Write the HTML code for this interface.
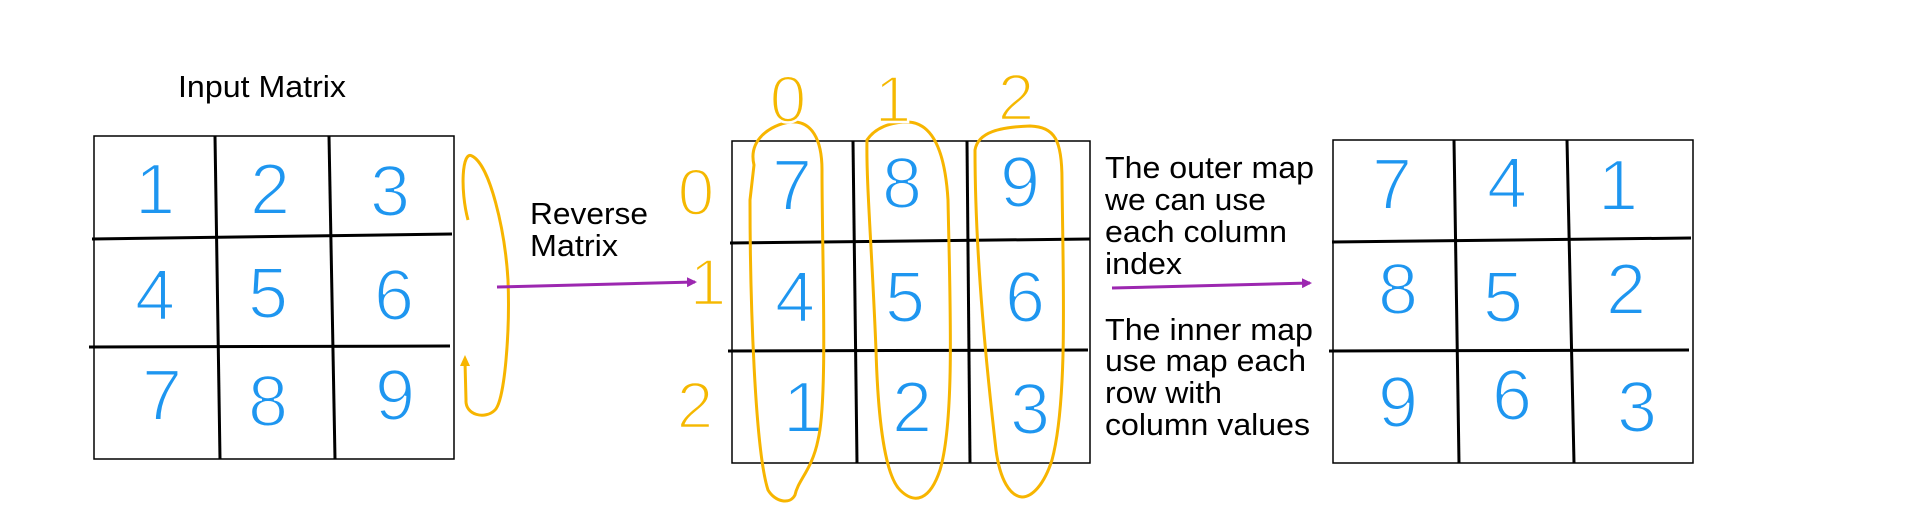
<!DOCTYPE html>
<html><head><meta charset="utf-8"><style>
html,body{margin:0;padding:0;background:#fff;}
svg{display:block;}
.d{font-family:"Liberation Sans",sans-serif;font-size:72px;fill:#1e96f0;stroke:#fff;stroke-width:2px;text-anchor:middle;}
.y{font-family:"Liberation Sans",sans-serif;font-size:66px;fill:#f5b800;stroke:#fff;stroke-width:2.4px;text-anchor:middle;}
.t{font-family:"Liberation Sans",sans-serif;font-size:31px;fill:#000;}
.g{stroke:#000;stroke-width:1.5;fill:none;}
.h{stroke:#000;stroke-width:3;fill:none;}
.o{stroke:#f7b500;stroke-width:3;fill:none;}
</style></head><body>
<svg width="1920" height="527" viewBox="0 0 1920 527" xmlns="http://www.w3.org/2000/svg">
<defs>
<marker id="pa" markerWidth="10" markerHeight="10" refX="8" refY="5" orient="auto" markerUnits="userSpaceOnUse"><path d="M0,0 L10,5 L0,10 Z" fill="#9c27b0"/></marker>
</defs>
<!-- Input Matrix -->
<text class="t" x="178" y="97" textLength="168" lengthAdjust="spacingAndGlyphs" font-size="30">Input Matrix</text>
<rect class="g" x="94" y="136" width="360" height="323"/>
<line class="h" x1="215" y1="136" x2="220" y2="459" stroke-width="2.5"/>
<line class="h" x1="329" y1="136" x2="335" y2="459" stroke-width="2.5"/>
<line class="h" x1="92" y1="239" x2="452" y2="234"/>
<line class="h" x1="89" y1="347" x2="450" y2="346"/>
<text class="d" x="155" y="214">1</text><text class="d" x="270" y="214">2</text><text class="d" x="390" y="216">3</text>
<text class="d" x="155" y="320">4</text><text class="d" x="268" y="318">5</text><text class="d" x="394" y="320">6</text>
<text class="d" x="162" y="420">7</text><text class="d" x="268" y="426">8</text><text class="d" x="395" y="420">9</text>
<!-- yellow bracket -->
<path class="o" d="M468,220 C460,190 462,150 472,156 C490,165 505,230 508,280 C510,330 505,400 495,410 C485,420 465,415 466,400 L465,362"/>
<path d="M460,366 L465,355 L470,366 Z" fill="#f7b500"/>
<!-- Reverse Matrix -->
<text class="t" x="530" y="224" textLength="118" lengthAdjust="spacingAndGlyphs">Reverse</text>
<text class="t" x="530" y="256" textLength="88" lengthAdjust="spacingAndGlyphs">Matrix</text>
<line x1="497" y1="287" x2="695" y2="282" stroke="#9c27b0" stroke-width="3" marker-end="url(#pa)"/>
<!-- Matrix 2 -->
<rect class="g" x="732" y="141" width="358" height="322"/>
<line class="h" x1="853" y1="141" x2="857" y2="463" stroke-width="2.5"/>
<line class="h" x1="967" y1="141" x2="970" y2="463" stroke-width="2.5"/>
<line class="h" x1="730" y1="243" x2="1090" y2="239"/>
<line class="h" x1="728" y1="351" x2="1088" y2="350"/>
<text class="d" x="792" y="210">7</text><text class="d" x="902" y="208">8</text><text class="d" x="1020" y="207">9</text>
<text class="d" x="795" y="322">4</text><text class="d" x="905" y="322">5</text><text class="d" x="1025" y="322">6</text>
<text class="d" x="803" y="432">1</text><text class="d" x="912" y="432">2</text><text class="d" x="1030" y="434">3</text>
<!-- column loops -->
<path class="o" d="M754,165 C748,140 770,125 790,122 C812,120 822,140 822,170 C822,260 828,400 818,440 C812,470 798,480 795,495 C790,505 775,502 768,490 C755,450 750,300 750,200 Z"/>
<path class="o" d="M867,140 C875,128 890,122 908,122 C932,123 945,150 948,200 C950,300 955,420 940,470 C930,500 915,505 900,490 C885,475 878,420 876,350 C872,250 866,180 867,140 Z"/>
<path class="o" d="M975,150 C978,132 1000,127 1030,126 C1055,127 1062,140 1062,180 C1063,280 1068,400 1052,460 C1044,485 1032,497 1022,497 C1010,496 1000,480 996,450 C988,380 975,260 975,150 Z"/>
<!-- index labels -->
<text class="y" x="788" y="122">0</text><text class="y" x="893" y="122">1</text><text class="y" x="1016" y="120">2</text>
<text class="y" x="696" y="215" font-size="58">0</text><text class="y" x="708" y="305" font-size="52">1</text><text class="y" x="695" y="428">2</text>
<!-- explanation -->
<text class="t" x="1105" y="178" textLength="209" lengthAdjust="spacingAndGlyphs">The outer map</text>
<text class="t" x="1105" y="210" textLength="161" lengthAdjust="spacingAndGlyphs">we can use</text>
<text class="t" x="1105" y="242" textLength="182" lengthAdjust="spacingAndGlyphs">each column</text>
<text class="t" x="1105" y="274" textLength="77" lengthAdjust="spacingAndGlyphs">index</text>
<line x1="1112" y1="288" x2="1310" y2="283" stroke="#9c27b0" stroke-width="3" marker-end="url(#pa)"/>
<text class="t" x="1105" y="340" textLength="208" lengthAdjust="spacingAndGlyphs">The inner map</text>
<text class="t" x="1105" y="371" textLength="201" lengthAdjust="spacingAndGlyphs">use map each</text>
<text class="t" x="1105" y="403" textLength="117" lengthAdjust="spacingAndGlyphs">row with</text>
<text class="t" x="1105" y="435" textLength="205" lengthAdjust="spacingAndGlyphs">column values</text>
<!-- Matrix 3 -->
<rect class="g" x="1333" y="140" width="360" height="323"/>
<line class="h" x1="1454" y1="140" x2="1459" y2="463" stroke-width="2.5"/>
<line class="h" x1="1567" y1="140" x2="1574" y2="463" stroke-width="2.5"/>
<line class="h" x1="1332" y1="242" x2="1691" y2="238"/>
<line class="h" x1="1329" y1="351" x2="1689" y2="350"/>
<text class="d" x="1392" y="209">7</text><text class="d" x="1507" y="208">4</text><text class="d" x="1618" y="210">1</text>
<text class="d" x="1398" y="314">8</text><text class="d" x="1503" y="322">5</text><text class="d" x="1626" y="314">2</text>
<text class="d" x="1398" y="427">9</text><text class="d" x="1512" y="420">6</text><text class="d" x="1637" y="432">3</text>
</svg>
</body></html>
